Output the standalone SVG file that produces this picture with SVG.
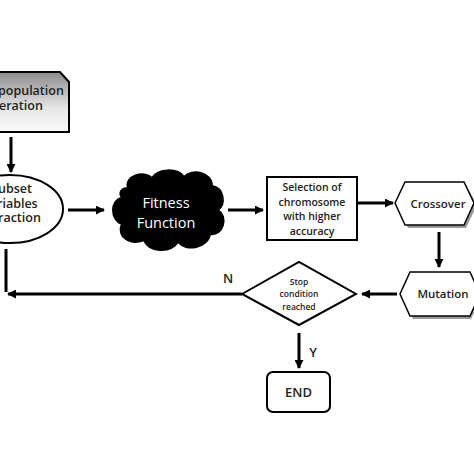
<svg xmlns="http://www.w3.org/2000/svg" width="474" height="474" viewBox="0 0 474 474">
<defs>
<style>
.t{font-family:"Open Sans","Liberation Sans",sans-serif;font-weight:600;fill:#222;text-anchor:middle}
.s{text-anchor:start}
.ln{stroke:#000;stroke-width:3;fill:none}
</style>
<linearGradient id="g" x1="0" y1="0" x2="0" y2="1">
<stop offset="0" stop-color="#8a8a8a"/>
<stop offset="0.6" stop-color="#e6e6e6"/>
<stop offset="1" stop-color="#fafafa"/>
</linearGradient>
<marker id="ah" viewBox="0 0 10 10" refX="9" refY="5" markerWidth="3" markerHeight="3" orient="auto" markerUnits="strokeWidth">
<path d="M0,0 L10,5 L0,10 z" fill="#000"/>
</marker>
</defs>
<rect width="474" height="474" fill="#fff"/>
<g id="connectors">
<line class="ln" x1="11" y1="137" x2="11" y2="172" marker-end="url(#ah)"/>
<line class="ln" x1="68" y1="210" x2="104" y2="210" marker-end="url(#ah)"/>
<line class="ln" x1="228" y1="210" x2="263" y2="210" marker-end="url(#ah)"/>
<line class="ln" x1="358" y1="203" x2="393" y2="203" stroke-width="3.5" marker-end="url(#ah)"/>
<line class="ln" x1="439" y1="232" x2="439" y2="267" marker-end="url(#ah)"/>
<line class="ln" x1="397" y1="294" x2="362" y2="294" marker-end="url(#ah)"/>
<line class="ln" x1="242" y1="294" x2="8" y2="294" marker-end="url(#ah)"/>
<line class="ln" x1="6" y1="249" x2="6" y2="292"/>
<line class="ln" x1="299" y1="333" x2="299" y2="368" marker-end="url(#ah)"/>
<text class="t" x="228" y="283" font-size="13">N</text>
<text class="t" x="313" y="357" font-size="13">Y</text>
</g>
<g id="population">
<path d="M-10,72 L60,72 L69,82 L69,132 L-10,132 z" fill="url(#g)" stroke="#000" stroke-width="2"/>
<text class="t s" x="-2" y="95" font-size="12.5">population</text>
<text class="t s" x="-1" y="110" font-size="12.5">eration</text>
</g>
<g id="subset">
<ellipse cx="10" cy="209" rx="53" ry="34" fill="#fff" stroke="#000" stroke-width="2"/>
<text class="t s" x="-2" y="193" font-size="12.5">ubset</text>
<text class="t s" x="-3" y="208" font-size="12.5">riables</text>
<text class="t s" x="-2" y="222" font-size="12.5">raction</text>
</g>
<g id="fitness">
<path d="M128,188 C124,176 144,170 152,178 C158,168 178,168 184,177 C192,168 212,172 212,186 C224,188 226,204 218,210 C228,216 224,236 210,234 C208,248 186,252 178,242 C170,254 148,252 144,240 C130,246 116,236 122,224 C110,220 110,200 122,198 C118,192 122,188 128,188 z" fill="#000" stroke="#000" stroke-width="2"/>
<text class="t" x="166" y="208" font-size="14.5" style="fill:#fff;font-weight:400">Fitness</text>
<text class="t" x="166" y="228" font-size="14.5" style="fill:#fff;font-weight:400">Function</text>
</g>
<g id="selection">
<rect x="267" y="177" width="90" height="63" fill="#fff" stroke="#000" stroke-width="2"/>
<text class="t" x="312" y="191" font-size="10.5">Selection of</text>
<text class="t" x="312" y="206" font-size="10.5">chromosome</text>
<text class="t" x="312" y="220" font-size="10.5">with higher</text>
<text class="t" x="312" y="235" font-size="10.5">accuracy</text>
</g>
<g id="crossover">
<path d="M398,205 L408,228 L466,228 L477,205 L466,185 L408,185 z" fill="#999"/>
<path d="M395,203 L405,182 L464,182 L474,203 L464,225 L405,225 z" fill="#fff" stroke="#000" stroke-width="1.5"/>
<text class="t" x="438" y="208" font-size="11.5">Crossover</text>
</g>
<g id="mutation">
<path d="M403,296 L413,319 L471,319 L482,296 L471,275 L413,275 z" fill="#999"/>
<path d="M400,294 L410,272 L470,272 L480,294 L470,316 L410,316 z" fill="#fff" stroke="#000" stroke-width="1.5"/>
<text class="t" x="443" y="298" font-size="11.5">Mutation</text>
</g>
<g id="stop">
<path d="M242,294 L299,262 L356,294 L299,325 z" fill="#fff" stroke="#000" stroke-width="2"/>
<text class="t" x="299" y="285" font-size="8.5">Stop</text>
<text class="t" x="299" y="297" font-size="8.5">condition</text>
<text class="t" x="299" y="310" font-size="8.5">reached</text>
</g>
<g id="end">
<rect x="267" y="372" width="63" height="40" rx="6" fill="#fff" stroke="#000" stroke-width="2"/>
<text class="t" x="298.5" y="397" font-size="13">END</text>
</g>
</svg>
